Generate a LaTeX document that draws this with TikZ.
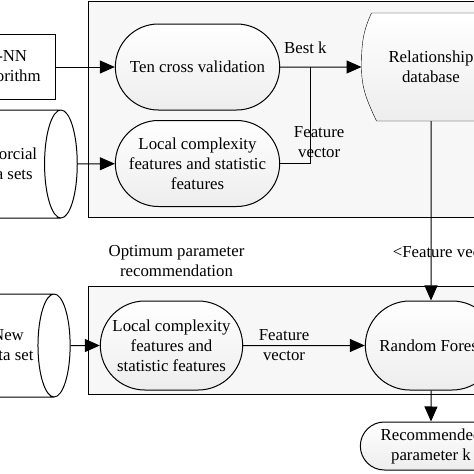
\documentclass[tikz,border=0pt]{standalone}
\usepackage{fontspec}
\setmainfont{Liberation Serif}
\usetikzlibrary{positioning,shapes.misc,shapes.geometric,arrows.meta,backgrounds}

\begin{document}
\begin{tikzpicture}[x=1pt,y=-1pt,node distance=96pt,on grid,
	font=\fontsize{16.8}{20}\selectfont,line width=1pt,
	>={Triangle[length=15pt,width=13pt]},
	panel/.style={draw,fill=gray!6},
	shade/.style={top color=white,bottom color=gray!14},
	proc/.style={rounded rectangle,draw,align=center,shade,
		minimum width=171pt,minimum height=86pt},
	store/.style={align=center,minimum width=138pt,minimum height=107pt},
	src/.style={draw,fill=white,align=center},
	disk/.style={cylinder,draw,fill=white,align=center,aspect=0.85}]
	\useasboundingbox (0,0) rectangle (474,474);
	\clip (0,0) rectangle (474,474);
	% the two stages
	\begin{scope}[on background layer]
		\draw[panel] (88,1) rectangle (520,217);
		\draw[panel] (88,286) rectangle (520,394);
	\end{scope}
	\node[align=center] (opt) at (176.5,261) {Optimum parameter\\recommendation};
	% training stage
	\node[proc] (tcv) at (197.5,67) {Ten cross validation};
	\node[proc] (lcf) [below=96.5pt of tcv] {Local complexity\\features and statistic\\features};
	\node[store] (rdb) [right=233.5pt of tcv] {Relationship\\database};
	\node[src,minimum width=94pt,minimum height=65pt] (knn) [left=189.5pt of tcv] {k-NN\\algorithm};
	\node[disk,minimum width=108pt,minimum height=124pt] (hist) at (4,164) {Historcial\\data sets};
	\begin{scope}[on background layer]
		\draw[shade] (rdb.north east) -- ([xshift=10pt]rdb.north west) to[out=245,in=90] (rdb.west)
			to[out=-90,in=115] ([xshift=15pt]rdb.south west) -- (rdb.south east) -- cycle;
	\end{scope}
	% recommendation stage
	\node[proc,minimum width=138pt,minimum height=89pt] (rf) [below=278.5pt of rdb] {Random Forest};
	\node[proc,minimum width=148pt,minimum height=48pt] (rec) [below=100.5pt of rf] {Recommended\\parameter k};
	\node[proc,minimum width=149pt,minimum height=89pt] (lcf2) [left=259.5pt of rf] {Local complexity\\features and\\statistic features};
	\node[disk,minimum width=103pt,minimum height=102pt] (new) at (8,345.5) {New\\data set};
	\path[->]
	(knn)  edge (tcv)
	(hist) edge (lcf)
	(tcv)  edge node[pos=0.31,yshift=19pt] {Best k} (rdb)
	(rdb)  edge node[pos=0.735,anchor=west,xshift=-42pt] {<Feature vector, Best k>} (rf)
	(new)  edge (lcf2)
	(lcf2) edge node[pos=0.336,align=center] {Feature\\vector} (rf)
	(rf)   edge (rec);
	\draw (lcf.east) -| ([xshift=30pt]tcv.east) node[pos=0.61,xshift=9pt,align=center] {Feature\\vector};
\end{tikzpicture}
\end{document}
